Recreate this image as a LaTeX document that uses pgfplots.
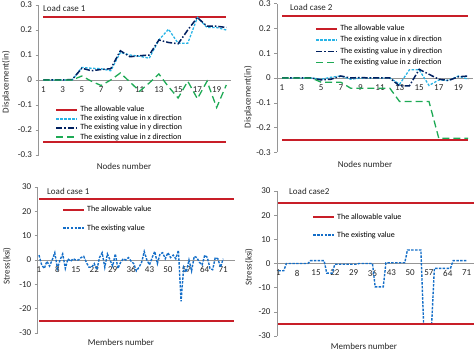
\documentclass[border=0pt]{standalone}
\usepackage{fontspec}
\setmainfont{Carlito}
\usepackage{pgfplots}
\usepackage{pgfplotstable}
\pgfplotsset{compat=1.18}
\definecolor{allow}{RGB}{200,30,40}
\definecolor{xdir}{RGB}{40,180,230}
\definecolor{ydir}{RGB}{0,32,96}
\definecolor{zdir}{RGB}{30,170,85}
\definecolor{strs}{RGB}{20,110,200}
\definecolor{axgray}{RGB}{150,150,150}

\pgfplotstableread{
n x y z
1 0 0 0
2 0 0 0
3 0 0 0
4 0 0.002 0
5 0.050 0.047 0.016
6 0.047 0.037 -0.005
7 0.045 0.042 -0.022
8 0.037 0.045 0.000
9 0.110 0.117 0.028
10 0.100 0.093 -0.008
11 0.095 0.097 -0.045
12 0.087 0.100 -0.012
13 0.160 0.160 0.024
14 0.203 0.150 -0.027
15 0.147 0.145 -0.072
16 0.147 0.200 -0.005
17 0.250 0.250 -0.075
18 0.210 0.215 -0.005
19 0.210 0.215 -0.110
20 0.200 0.210 -0.020
}\dispA

\pgfplotstableread{
n x y z
1 0 0 0
2 0 0 0
3 0 0 0
4 0 0 0
5 -0.005 -0.008 -0.017
6 0.003 -0.005 -0.017
7 0.008 0.008 -0.017
8 -0.005 0.000 -0.041
9 0.000 0.002 -0.041
10 0 0 -0.041
11 0 0 -0.041
12 0 0 -0.041
13 -0.025 -0.032 -0.095
14 0.033 -0.032 -0.095
15 0.033 0.035 -0.095
16 -0.030 0.015 -0.095
17 -0.008 -0.005 -0.243
18 -0.010 -0.010 -0.243
19 0.008 0.005 -0.243
20 -0.005 0.008 -0.243
}\dispB

\pgfplotstableread{
m s
1 2
2 -2
3 -3.5
4 -0.5
5 -2.5
6 0
7 3
8 -3.5
9 0
10 2.5
11 -3.5
12 0.5
13 -0.5
14 0.5
15 0
16 0
17 1
18 1.5
19 -1
20 -3
21 -3
22 -1.5
23 -4
24 1
25 3
26 -3
27 2.5
28 0
29 -2.5
30 2.5
31 -3.5
32 -1
33 0.5
34 0
35 1
36 -0.5
37 -1.5
38 -4.5
39 -3
40 -1
41 3.5
42 0
43 -2
44 1
45 3.5
46 -1.5
47 2.5
48 3
49 0.5
50 3
51 1
52 2
53 0.5
54 4
55 -17
56 -3
57 -5
58 0
59 -4.5
60 1.5
61 1
62 -1
63 -2
64 2
65 1
66 -3.5
67 -4
68 1
69 0.5
70 -3
71 0.5
}\stressA

\pgfplotstableread{
m s
1 -3
2 -3
3 -3
4 0
5 0
6 0
7 0
8 0
9 0
10 0
11 0
12 0
13 1.2
14 1.2
15 1.2
16 1.2
17 1.2
18 1.2
19 -4
20 -4
21 -4
22 -0.3
23 -0.3
24 -0.3
25 -0.3
26 -0.3
27 -0.3
28 -0.3
29 -0.3
30 -0.3
31 0
32 0
33 0
34 0
35 0
36 0
37 -9.7
38 -9.7
39 -9.7
40 -9.7
41 0.3
42 0.3
43 0.3
44 0.3
45 0.3
46 0.3
47 0.3
48 0.3
49 5.6
50 5.6
51 5.6
52 5.6
53 5.6
54 5.6
55 -25
56 -25
57 -25
58 -25
59 -2
60 -2
61 -2
62 -2
63 -2
64 -2
65 -2
66 1.2
67 1.2
68 1.2
69 1.2
70 1.2
71 1.2
}\stressB

\pgfplotsset{
  excel/.style={
    scale only axis,
    enlargelimits=false,
    axis x line=middle,
    axis y line=left,
    hide obscured x ticks=false,
    hide obscured y ticks=false,
    axis line style={draw=axgray, line width=0.8pt, -},
    tick style={draw=axgray, line width=0.6pt},
    tick align=outside,
    major tick length=3pt,
    major x tick style={draw=none},
    tick label style={font=\fontsize{9}{10}\selectfont, text=black!85},
    legend cell align=left,
    legend image code/.code={\draw[##1] (0pt,0pt) -- (21pt,0pt);},
    legend style={draw=none, fill=none, inner sep=0pt, anchor=north west,
      font=\fontsize{8}{9}\selectfont, column sep=2pt,
      nodes={inner sep=0pt, text height=5.5pt, text depth=1.5pt}},
  },
  redl/.style={allow, line width=2pt},
  xl/.style={xdir, line width=1.3pt, dash pattern=on 2.5pt off 1.5pt},
  yl/.style={ydir, line width=1.5pt, dash pattern=on 6pt off 2pt on 1.5pt off 2pt},
  zl/.style={zdir, line width=1.3pt, dash pattern=on 7pt off 4pt},
  sl/.style={strs, line width=1.4pt, dash pattern=on 2.5pt off 1.3pt},
}

\begin{document}
\begin{tikzpicture}
\useasboundingbox (0pt,0pt) rectangle (474pt,350pt);

% ---------- top left ----------
\begin{axis}[excel, at={(38.5pt,195pt)}, anchor=south west,
  width=192.6pt, height=150pt,
  xmin=0.5, xmax=20.5, ymin=-0.3, ymax=0.3,
  xtick={1,3,5,7,9,11,13,15,17,19},
  xticklabels={1,3,5,7,9,11,13,15,17,19},
  ytick={-0.3,-0.2,-0.1,0,0.1,0.2,0.3},
  yticklabels={-0.3,-0.2,-0.1,0,0.1,0.2,0.3},
  legend style={at={(0.086,0.326)}, row sep=2.1pt}]
\addplot[redl] coordinates {(1,0.25) (20,0.25)};
\addlegendentry{The allowable value}
\addplot[xl] table[x=n,y=x] {\dispA};
\addlegendentry{The existing value in x direction}
\addplot[yl] table[x=n,y=y] {\dispA};
\addlegendentry{The existing value in y direction}
\addplot[zl] table[x=n,y=z] {\dispA};
\addlegendentry{The existing value in z direction}
\addplot[redl, forget plot] coordinates {(1,-0.25) (20,-0.25)};
\end{axis}

% ---------- top right ----------
\begin{axis}[excel, at={(277.1pt,197.5pt)}, anchor=south west,
  width=196pt, height=149pt,
  xmin=0.5, xmax=20.5, ymin=-0.3, ymax=0.3,
  xtick={1,3,5,7,9,11,13,15,17,19},
  xticklabels={1,3,5,7,9,11,13,15,17,19},
  ytick={-0.3,-0.2,-0.1,0,0.1,0.2,0.3},
  yticklabels={-0.3,-0.2,-0.1,0,0.1,0.2,0.3},
  legend style={at={(0.194,0.856)}, row sep=4.3pt}]
\addplot[redl] coordinates {(1,0.25) (20,0.25)};
\addlegendentry{The allowable value}
\addplot[xl] table[x=n,y=x] {\dispB};
\addlegendentry{The existing value in x direction}
\addplot[yl] table[x=n,y=y] {\dispB};
\addlegendentry{The existing value in y direction}
\addplot[zl] table[x=n,y=z] {\dispB};
\addlegendentry{The existing value in z direction}
\addplot[redl, forget plot] coordinates {(1,-0.25) (20,-0.25)};
\end{axis}

% ---------- bottom left ----------
\begin{axis}[excel, at={(37.7pt,17pt)}, anchor=south west,
  width=197.3pt, height=146pt,
  xmin=0.5, xmax=75.5, ymin=-30, ymax=30,
  xtick={1,8,15,22,29,36,43,50,57,64,71},
  xticklabels={1,8,15,22,29,36,43,50,57,64,71},
  ytick={-30,-20,-10,0,10,20,30},
  yticklabels={-30,-20,-10,0,10,20,30},
  legend style={at={(0.123,0.87)}, row sep=11.4pt}]
\addplot[redl] coordinates {(1,25) (75,25)};
\addlegendentry{The allowable value}
\addplot[sl] table[x=m,y=s] {\stressA};
\addlegendentry{The existing value}
\addplot[redl, forget plot] coordinates {(1,-25) (75,-25)};
\end{axis}

% ---------- bottom right ----------
\begin{axis}[excel, at={(277pt,14pt)}, anchor=south west,
  width=196.9pt, height=145pt,
  xmin=0.5, xmax=73.7, ymin=-30, ymax=30,
  xtick={1,8,15,22,29,36,43,50,57,64,71},
  xticklabels={1,8,15,22,29,36,43,50,57,64,71},
  ytick={-30,-20,-10,0,10,20,30},
  yticklabels={-30,-20,-10,0,10,20,30},
  legend style={at={(0.178,0.843)}, row sep=10.7pt}]
\addplot[redl] coordinates {(1,25) (75,25)};
\addlegendentry{The allowable value}
\addplot[sl] table[x=m,y=s] {\stressB};
\addlegendentry{The existing value}
\addplot[redl, forget plot] coordinates {(1,-25) (75,-25)};
\end{axis}

% ---------- texts ----------
\begin{scope}[every node/.style={font=\fontsize{9}{10}\selectfont, text=black!85, inner sep=0pt}]
\node[anchor=west] at (43pt,342pt) {Load case 1};
\node[anchor=west] at (290pt,343pt) {Load case 2};
\node[anchor=west] at (47pt,159pt) {Load case 1};
\node[anchor=west] at (289pt,159pt) {Load case2};
\node[rotate=90] at (6pt,268pt) {Displacement(in)};
\node[rotate=90] at (248pt,253pt) {Displacement(in)};
\node[rotate=90] at (7pt,84pt) {Stress(ksi)};
\node[rotate=90] at (249pt,83pt) {Stress(ksi)};
\node at (124pt,184pt) {Nodes number};
\node at (365pt,186pt) {Nodes number};
\node at (121pt,8pt) {Members number};
\node at (364pt,4pt) {Members number};
\end{scope}
\end{tikzpicture}
\end{document}
